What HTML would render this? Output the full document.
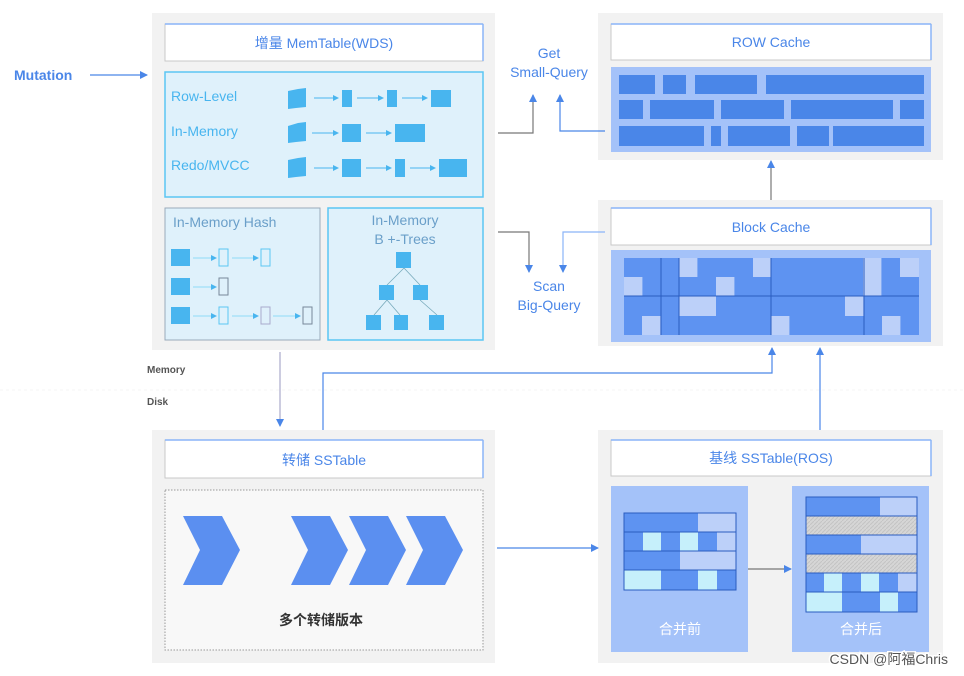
<!DOCTYPE html>
<html><head><meta charset="utf-8"><style>
html,body{margin:0;padding:0;background:#fff;}
svg{display:block;}
text{font-family:"Liberation Sans","Noto Sans CJK SC",sans-serif;}
</style></head><body>
<svg width="964" height="676" viewBox="0 0 964 676" xmlns="http://www.w3.org/2000/svg">
<defs>
<marker id="ab" markerWidth="8" markerHeight="8" refX="7" refY="4" orient="auto" markerUnits="userSpaceOnUse"><path d="M0,0 L8,4 L0,8 z" fill="#4a86e8"/></marker>
<marker id="as" markerWidth="6" markerHeight="6" refX="5" refY="3" orient="auto" markerUnits="userSpaceOnUse"><path d="M0,0 L6,3 L0,6 z" fill="#48b5ef"/></marker>
<pattern id="hatch" width="4" height="4" patternUnits="userSpaceOnUse"><rect width="4" height="4" fill="#d6d6d6"/><path d="M0,4 L4,0" stroke="#c4c4c4" stroke-width="1"/></pattern>
</defs>

<!-- Panels -->
<rect x="152" y="13" width="343" height="337" fill="#f2f2f2"/>
<rect x="598" y="13" width="345" height="147" fill="#f2f2f2"/>
<rect x="598" y="200" width="345" height="146" fill="#f2f2f2"/>
<rect x="152" y="430" width="343" height="233" fill="#f2f2f2"/>
<rect x="598" y="430" width="345" height="233" fill="#f2f2f2"/>

<!-- Headers -->
<g fill="#fff" stroke="#c8c8c8" stroke-width="1">
<rect x="165" y="24" width="318" height="37"/>
<rect x="611" y="24" width="320" height="36"/>
<rect x="611" y="208" width="320" height="37"/>
<rect x="165" y="440" width="318" height="38"/>
<rect x="611" y="440" width="320" height="36"/>
</g>
<g stroke="#8ab4f8" stroke-width="1.5">
<line x1="165" y1="24" x2="483" y2="24"/><line x1="483" y1="24" x2="483" y2="61"/>
<line x1="611" y1="24" x2="931" y2="24"/><line x1="931" y1="24" x2="931" y2="60"/>
<line x1="611" y1="208" x2="931" y2="208"/><line x1="931" y1="208" x2="931" y2="245"/>
<line x1="165" y1="440" x2="483" y2="440"/><line x1="483" y1="440" x2="483" y2="478"/>
<line x1="611" y1="440" x2="931" y2="440"/><line x1="931" y1="440" x2="931" y2="476"/>
</g>
<g fill="#4a86e8" font-size="14" text-anchor="middle">
<text x="324" y="48">增量 MemTable(WDS)</text>
<text x="771" y="47">ROW Cache</text>
<text x="771" y="232">Block Cache</text>
<text x="324" y="465">转储 SSTable</text>
<text x="771" y="463">基线 SSTable(ROS)</text>
</g>

<!-- MemTable inner -->
<rect x="165" y="72" width="318" height="125" fill="#dff1fb" stroke="#5bc6f3" stroke-width="1.5"/>
<rect x="165" y="208" width="155" height="132" fill="#dff1fb" stroke="#9ab" stroke-width="1"/>
<rect x="328" y="208" width="155" height="132" fill="#dff1fb" stroke="#5bc6f3" stroke-width="1.5"/>
<g fill="#48b5ef" font-size="14">
<text x="171" y="101">Row-Level</text>
<text x="171" y="136">In-Memory</text>
<text x="171" y="170">Redo/MVCC</text>
</g>
<text x="173" y="227" fill="#6a9fc9" font-size="14">In-Memory Hash</text>
<text x="405" y="225" fill="#6a9fc9" font-size="14" text-anchor="middle">In-Memory</text>
<text x="405" y="244" fill="#6a9fc9" font-size="14" text-anchor="middle">B +-Trees</text>

<g fill="#48b5ef">
<path d="M288,91 L298,89 L306,88 L306,107 L296,108 L288,109z"/>
<rect x="342" y="90" width="10" height="17"/><rect x="387" y="90" width="10" height="17"/><rect x="431" y="90" width="20" height="17"/>
<path d="M288,126 L298,123 L306,122 L306,141 L296,142 L288,143z"/>
<rect x="342" y="124" width="19" height="18"/><rect x="395" y="124" width="30" height="18"/>
<path d="M288,160 L298,158 L306,157 L306,176 L296,177 L288,178z"/>
<rect x="342" y="159" width="19" height="18"/><rect x="395" y="159" width="10" height="18"/><rect x="439" y="159" width="28" height="18"/>
</g>
<g stroke="#48b5ef" stroke-width="1" marker-end="url(#as)">
<line x1="314" y1="98" x2="338" y2="98"/><line x1="357" y1="98" x2="383" y2="98"/><line x1="402" y1="98" x2="427" y2="98"/>
<line x1="312" y1="133" x2="338" y2="133"/><line x1="366" y1="133" x2="391" y2="133"/>
<line x1="314" y1="168" x2="338" y2="168"/><line x1="366" y1="168" x2="391" y2="168"/><line x1="410" y1="168" x2="435" y2="168"/>
</g>

<!-- hash -->
<g fill="#48b5ef">
<rect x="171" y="249" width="19" height="17"/><rect x="171" y="278" width="19" height="17"/><rect x="171" y="307" width="19" height="17"/>
</g>
<g fill="none" stroke="#5bc6f3" stroke-width="1">
<rect x="219" y="249" width="9" height="17"/><rect x="261" y="249" width="9" height="17"/>
<rect x="219" y="278" width="9" height="17" stroke="#789"/>
<rect x="219" y="307" width="9" height="17"/><rect x="261" y="307" width="9" height="17" stroke="#aac"/><rect x="303" y="307" width="9" height="17" stroke="#789"/>
</g>
<g stroke="#8fdaf7" stroke-width="1" marker-end="url(#as)">
<line x1="193" y1="258" x2="216" y2="258"/><line x1="232" y1="258" x2="258" y2="258"/>
<line x1="193" y1="287" x2="216" y2="287"/>
<line x1="193" y1="316" x2="216" y2="316"/><line x1="232" y1="316" x2="258" y2="316"/><line x1="273" y1="316" x2="300" y2="316"/>
</g>
<!-- btree -->
<g stroke="#7ab" stroke-width="0.8">
<line x1="404" y1="268" x2="387" y2="285"/><line x1="404" y1="268" x2="420" y2="285"/>
<line x1="387" y1="300" x2="374" y2="315"/><line x1="387" y1="300" x2="400" y2="315"/><line x1="420" y1="300" x2="437" y2="315"/>
</g>
<g fill="#48b5ef">
<rect x="396" y="252" width="15" height="16"/>
<rect x="379" y="285" width="15" height="15"/><rect x="413" y="285" width="15" height="15"/>
<rect x="366" y="315" width="15" height="15"/><rect x="394" y="315" width="14" height="15"/><rect x="429" y="315" width="15" height="15"/>
</g>

<!-- Mutation -->
<text x="14" y="80" fill="#4a86e8" font-size="14" font-weight="bold">Mutation</text>
<line x1="90" y1="75" x2="147" y2="75" stroke="#4a86e8" stroke-width="1.2" marker-end="url(#ab)"/>

<!-- Get / Scan -->
<g fill="#4a86e8" font-size="14" text-anchor="middle">
<text x="549" y="58">Get</text><text x="549" y="77">Small-Query</text>
<text x="549" y="291">Scan</text><text x="549" y="310">Big-Query</text>
</g>
<g fill="none" stroke-width="1.2">
<polyline points="498,133 533,133 533,95" stroke="#777" marker-end="url(#ab)"/>
<polyline points="605,131 560,131 560,95" stroke="#4a86e8" marker-end="url(#ab)"/>
<polyline points="498,232 529,232 529,272" stroke="#777" marker-end="url(#ab)"/>
<polyline points="605,232 563,232 563,272" stroke="#8ab4f8" marker-end="url(#ab)"/>
<line x1="771" y1="200" x2="771" y2="161" stroke="#777" marker-end="url(#ab)"/>
<polyline points="323,430 323,373 772,373 772,348" stroke="#4a86e8" marker-end="url(#ab)"/>
<line x1="820" y1="430" x2="820" y2="348" stroke="#4a86e8" marker-end="url(#ab)"/>
<line x1="280" y1="352" x2="280" y2="426" stroke="#aac" marker-end="url(#ab)"/>
<line x1="497" y1="548" x2="598" y2="548" stroke="#4a86e8" marker-end="url(#ab)"/>
<line x1="748" y1="569" x2="791" y2="569" stroke="#777" marker-end="url(#ab)"/>
</g>
<line x1="0" y1="390" x2="964" y2="390" stroke="#f4f4f4" stroke-width="1" stroke-dasharray="3,3"/>
<text x="147" y="373" fill="#555" font-size="10" font-weight="bold">Memory</text>
<text x="147" y="405" fill="#555" font-size="10" font-weight="bold">Disk</text>

<!-- ROW cache grid -->
<rect x="611" y="67" width="320" height="85" fill="#a4c2f9"/>
<g fill="#4a86e8">
<rect x="619" y="75" width="36" height="19"/><rect x="663" y="75" width="23" height="19"/><rect x="695" y="75" width="62" height="19"/><rect x="766" y="75" width="158" height="19"/>
<rect x="619" y="100" width="24" height="19"/><rect x="650" y="100" width="64" height="19"/><rect x="721" y="100" width="63" height="19"/><rect x="791" y="100" width="102" height="19"/><rect x="900" y="100" width="24" height="19"/>
<rect x="619" y="126" width="85" height="20"/><rect x="711" y="126" width="10" height="20"/><rect x="728" y="126" width="62" height="20"/><rect x="797" y="126" width="32" height="20"/><rect x="833" y="126" width="91" height="20"/>
</g>

<!-- Block cache grid -->
<rect x="611" y="250" width="320" height="92" fill="#a4c2f9"/>
<rect x="624" y="258" width="295" height="77" fill="#5e93f1"/>
<g fill="#bcd0f9">
<rect x="679" y="258" width="18.4" height="19"/><rect x="753" y="258" width="18.4" height="19"/><rect x="863" y="258" width="18.4" height="19"/><rect x="900" y="258" width="19" height="19"/>
<rect x="624" y="277" width="18.4" height="19"/><rect x="716" y="277" width="18.4" height="19"/><rect x="863" y="277" width="18.4" height="19"/>
<rect x="679" y="296" width="37" height="20"/><rect x="845" y="296" width="18.4" height="20"/>
<rect x="642" y="316" width="18.4" height="19"/><rect x="771" y="316" width="18.4" height="19"/><rect x="882" y="316" width="18.4" height="19"/>
</g>
<g stroke="#2a5cc0" stroke-width="1">
<line x1="661" y1="258" x2="661" y2="335"/><line x1="679" y1="258" x2="679" y2="335"/><line x1="771" y1="258" x2="771" y2="335"/><line x1="864" y1="258" x2="864" y2="335"/>
<line x1="624" y1="296" x2="919" y2="296"/>
</g>

<!-- 转储 area -->
<rect x="165" y="490" width="318" height="160" fill="#f8f8f8" stroke="#999" stroke-width="1" stroke-dasharray="1.5,1.5"/>
<g fill="#5b8ff0">
<path d="M183,516 L222,516 L240,550 L222,585 L183,585 L200,550z"/>
<path d="M291,516 L330,516 L348,550 L330,585 L291,585 L308,550z"/>
<path d="M349,516 L388,516 L406,550 L388,585 L349,585 L366,550z"/>
<path d="M406,516 L445,516 L463,550 L445,585 L406,585 L423,550z"/>
</g>
<text x="321" y="625" fill="#333" font-size="14" font-weight="bold" text-anchor="middle">多个转储版本</text>

<!-- 基线 boxes -->
<rect x="611" y="486" width="137" height="166" fill="#a4c2f9"/>
<rect x="792" y="486" width="137" height="166" fill="#a4c2f9"/>
<text x="680" y="634" fill="#fff" font-size="14" text-anchor="middle">合并前</text>
<text x="861" y="634" fill="#fff" font-size="14" text-anchor="middle">合并后</text>
<!-- left grid 6x4 -->
<g transform="translate(624,513)">
<rect width="112" height="77" fill="#5e93f1"/>
<g fill="#bcd0f9"><rect x="74" y="0" width="38" height="19"/><rect x="93" y="19" width="19" height="19"/><rect x="56" y="38" width="56" height="19"/></g>
<g fill="#c6f0fb"><rect x="19" y="19" width="18" height="19"/><rect x="56" y="19" width="18" height="19"/><rect x="0" y="57" width="37" height="20"/><rect x="74" y="57" width="19" height="20"/></g>
<g stroke="#2a5cc0" stroke-width="1" fill="none"><rect width="112" height="77"/><line x1="0" y1="19" x2="112" y2="19"/><line x1="0" y1="38" x2="112" y2="38"/><line x1="0" y1="57" x2="112" y2="57"/></g>
</g>
<!-- right grid 6x6 -->
<g transform="translate(806,497)">
<rect width="111" height="115" fill="#5e93f1"/>
<rect x="74" y="0" width="37" height="19" fill="#bcd0f9"/>
<rect x="0" y="19" width="111" height="19" fill="url(#hatch)"/>
<rect x="55" y="38" width="56" height="19" fill="#bcd0f9"/>
<rect x="0" y="57" width="111" height="19" fill="url(#hatch)"/>
<g fill="#c6f0fb"><rect x="18" y="76" width="18" height="19"/><rect x="55" y="76" width="18" height="19"/><rect x="0" y="95" width="36" height="20"/><rect x="74" y="95" width="18" height="20"/></g>
<rect x="92" y="76" width="19" height="19" fill="#bcd0f9"/>
<g stroke="#2a5cc0" stroke-width="1" fill="none"><rect width="111" height="115"/><line x1="0" y1="19" x2="111" y2="19"/><line x1="0" y1="38" x2="111" y2="38"/><line x1="0" y1="57" x2="111" y2="57"/><line x1="0" y1="76" x2="111" y2="76"/><line x1="0" y1="95" x2="111" y2="95"/></g>
</g>

<text x="948" y="664" fill="#fff" stroke="#fff" stroke-width="3" font-size="14" text-anchor="end">CSDN @阿福Chris</text>
<text x="948" y="664" fill="#555" font-size="14" text-anchor="end">CSDN @阿福Chris</text>
</svg>
</body></html>
